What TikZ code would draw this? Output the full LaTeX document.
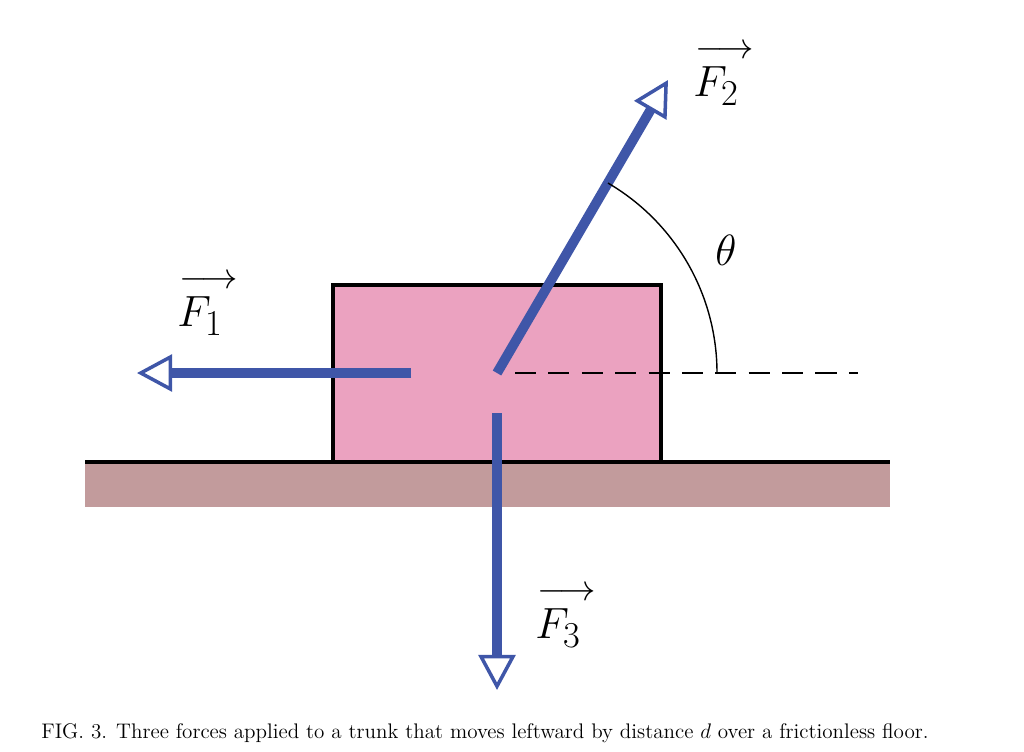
\documentclass[tikz,border=0pt]{standalone}
\usetikzlibrary{arrows.meta}
\definecolor{fblue}{HTML}{3F56A8}
\definecolor{floorc}{HTML}{C29B9C}
\definecolor{boxc}{HTML}{EBA2C0}
\newcommand{\vecF}[1]{\rlap{\kern1pt\raisebox{22pt}{$\scriptstyle\longrightarrow$}}F_{#1}}
\begin{document}
\begin{tikzpicture}[x=0.02cm,y=-0.02cm,
 force/.style={fblue,line width=5.6pt,-{Triangle[open,fill=white,line width=2pt,length=20pt,width=21pt]}},
 lab/.style={font=\fontsize{32}{36}\selectfont}]
\useasboundingbox (0,0) rectangle (1024,751);
\fill[floorc] (85,462) rectangle (890,507);
\draw[line width=2pt] (85,462) -- (890,462);
\draw[fill=boxc,line width=2pt] (333,462) rectangle (661,285);
\coordinate (c) at (497,373);
\coordinate (f1s) at (411,373); \coordinate (f1e) at (137,373);
\coordinate (f2e) at (668,80);
\coordinate (f3s) at (497,413); \coordinate (f3e) at (497,690);
\coordinate (ds) at (515,373); \coordinate (de) at (858,373);
\draw[force] (f1s) -- (f1e);
\draw[force] (c) -- (f2e);
\draw[force] (f3s) -- (f3e);
\draw[line width=0.8pt,dash pattern=on 12pt off 7pt] (ds) -- (de);
\draw[line width=0.8pt] (717,373) arc[start angle=0,end angle=-59.7,radius=220];
\node[lab] (l1) at (200,305) {$\vecF{1}$};
\node[lab] (l2) at (716,75) {$\vecF{2}$};
\node[lab] (l3) at (558,617) {$\vecF{3}$};
\node[lab] (th) at (726,250) {$\theta$};
\node[font=\fontsize{12}{13}\selectfont] (cap) at (485,733) {FIG. 3. Three forces applied to a trunk that moves leftward by distance $d$ over a frictionless floor.};
\end{tikzpicture}
\end{document}
